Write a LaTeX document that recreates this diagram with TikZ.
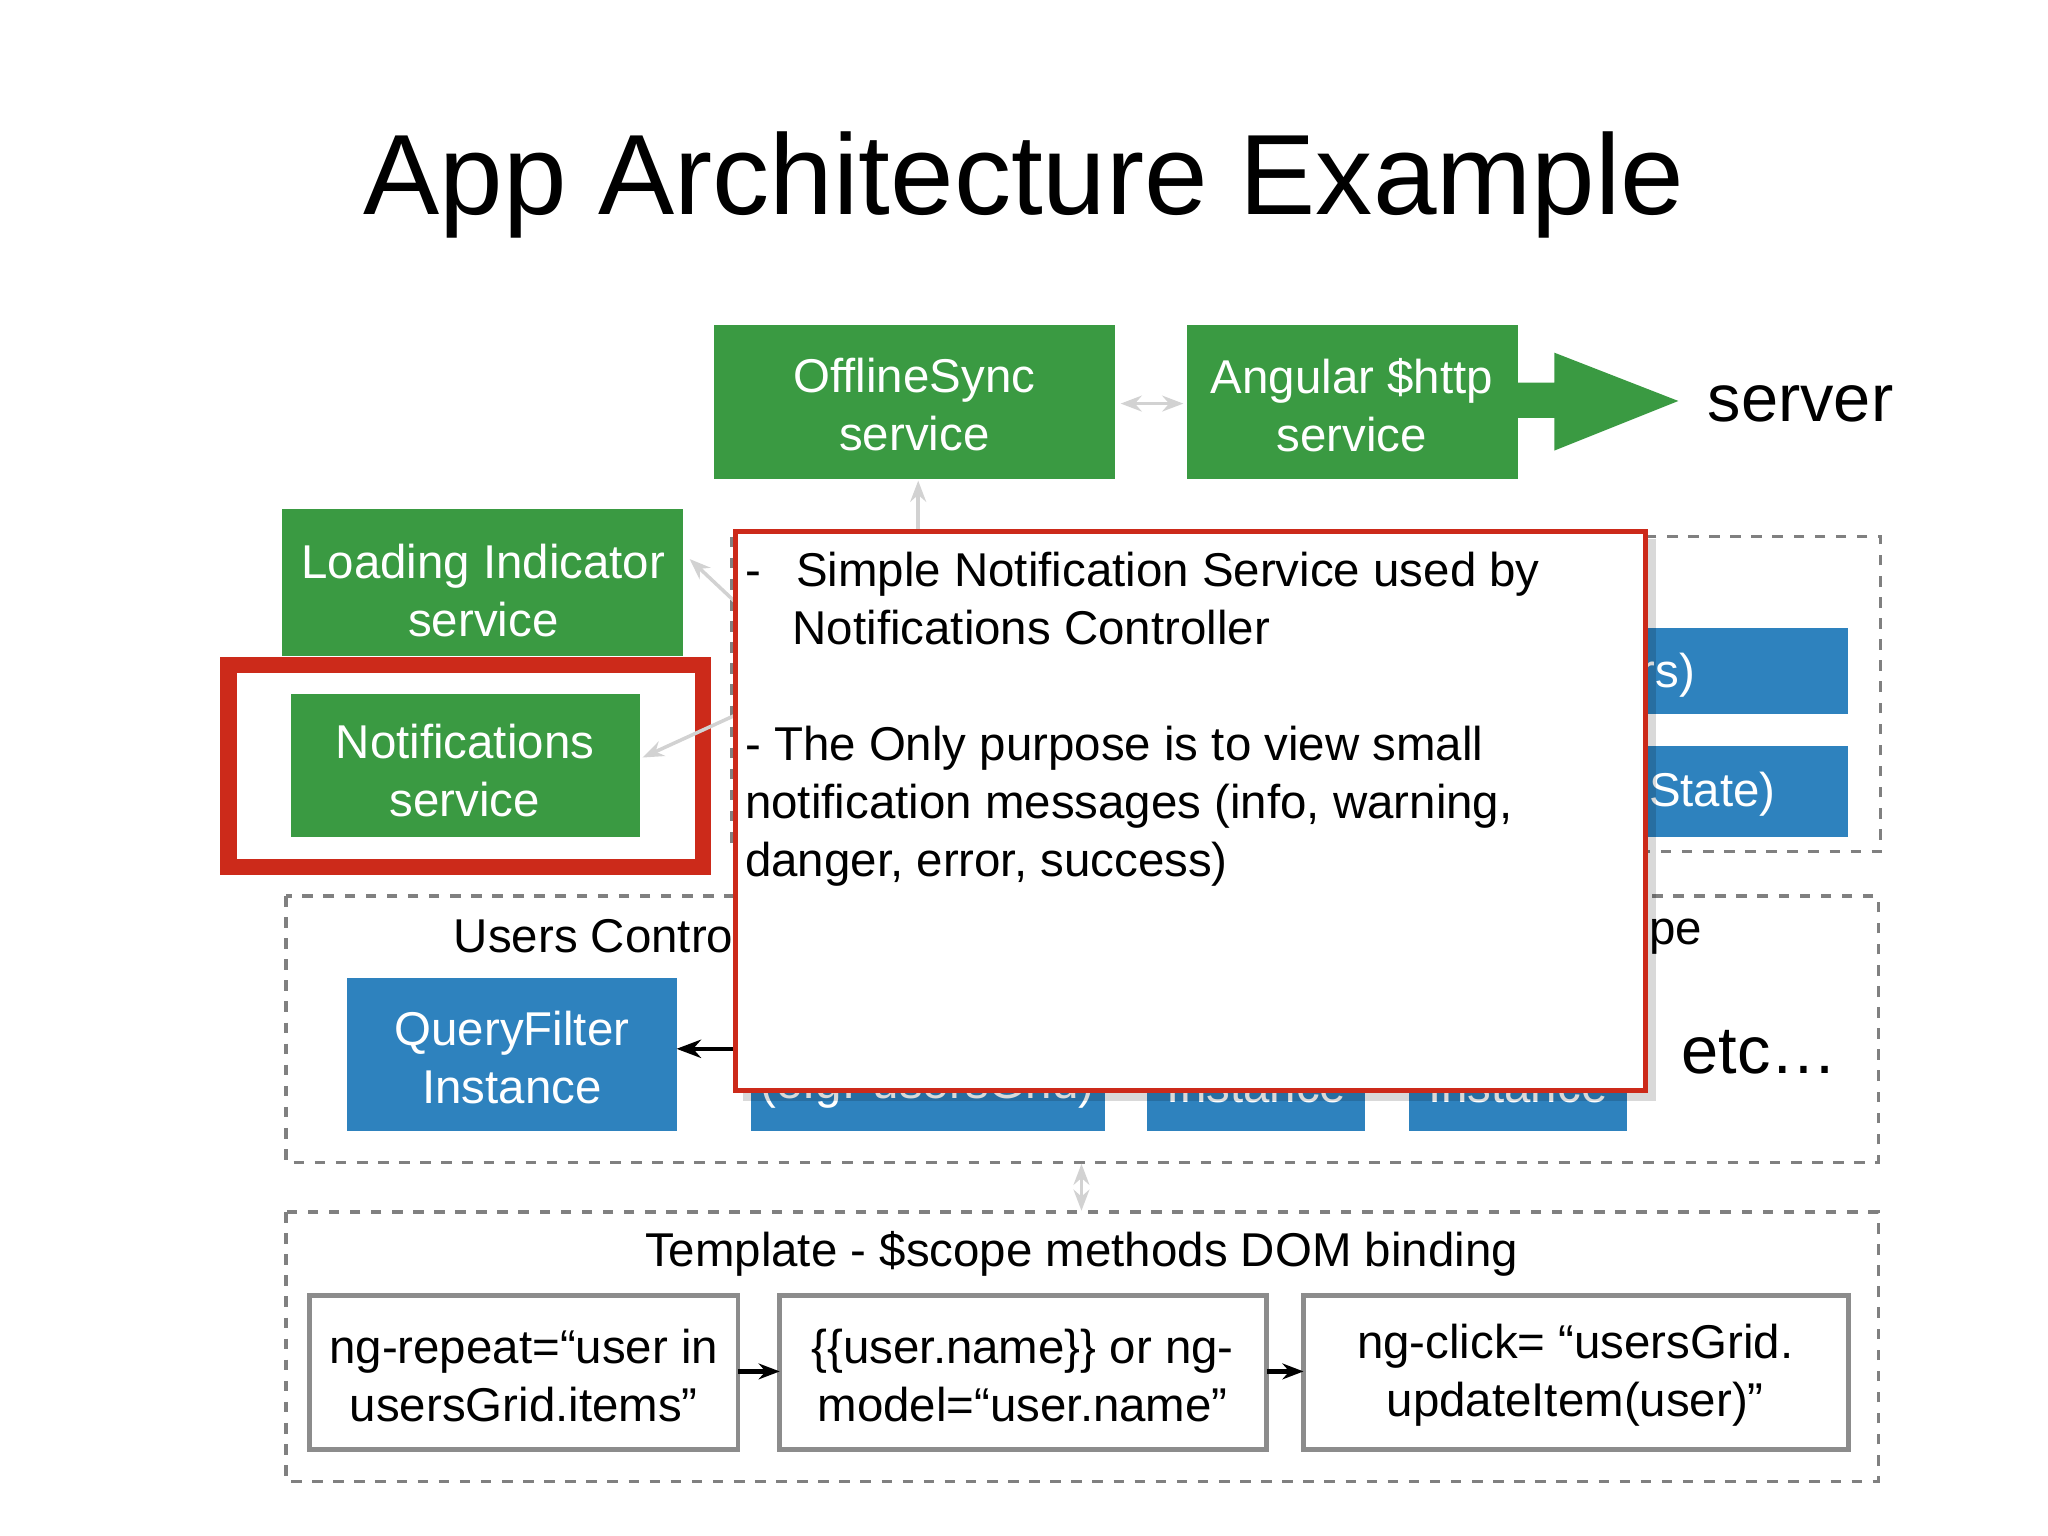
\documentclass[tikz,border=0pt]{standalone}
\usepackage{fontspec}
\setmainfont{Liberation Sans}
\usetikzlibrary{arrows.meta}
\definecolor{gr}{HTML}{3A9A42}
\definecolor{bl}{HTML}{2E82BE}
\definecolor{rd}{HTML}{CC2A1A}
\begin{document}
\begin{tikzpicture}[x=0.013061cm,y=-0.013061cm,
  box/.style={draw=none,inner sep=0pt,align=center,font=\fontsize{13.5}{16.5}\selectfont},
  g/.style={fill=gr,text=white},
  b/.style={fill=bl,text=white},
  dsh/.style={draw=gray,dashed,line width=0.9pt},
  tb/.style={draw=gray!90,line width=1.4pt,fill=white},
  lt/.style={draw=gray!35,line width=1pt,-{Stealth[length=6pt]}},
  t/.style={font=\fontsize{13.5}{16.5}\selectfont,inner sep=0pt}]
\useasboundingbox (0,0) rectangle (1568,1176);
\node[font=\fontsize{32.5}{38}\selectfont] (title) at (784,142) {App Architecture Example};
% dashed containers
\draw[dsh] (560,411) rectangle (1440,652);
\draw[dsh] (219,686) rectangle (1438,890);
\draw[dsh] (219,928) rectangle (1438,1134);
% green services
\path[g] (547,249) rectangle (854,367); \node[box,text=white] (off) at (700,310) {OfflineSync\\service};
\path[g] (909,249) rectangle (1162,367); \node[box,text=white] (http) at (1035,310) {Angular \$http\\service};
\path[g] (216,390) rectangle (523,502); \node[box,text=white] (load) at (370,452) {Loading Indicator\\service};
\path[g] (223,531) rectangle (490,641); \node[box,text=white] (notif) at (356,590) {Notifications\\service};
\fill[gr] (1162,293) -- (1190,293) -- (1190,270) -- (1285,307) -- (1190,345) -- (1190,320) -- (1162,320) -- cycle;
\node[font=\fontsize{19}{22}\selectfont,anchor=west] (srv) at (1298,309) {server};
\draw[rd,line width=4.6pt] (175,509) rectangle (538,664);
% blue boxes top right
\path[b] (1230,481) rectangle (1415,547); \node[t,text=white,anchor=west] (u) at (1255,517) {rs)};
\path[b] (1230,571) rectangle (1415,641); \node[t,text=white,anchor=west] (st) at (1262,608) {State)};
% middle
\node[t,anchor=west] (uc) at (347,717) {Users Contro};
\node[t,anchor=west] (pe) at (1262,717) {pe};
\path[b] (266,749) rectangle (518,866); \node[box,text=white] (qf) at (392,810) {QueryFilter\\Instance};
\path[b] (575,760) rectangle (846,866); \node[t,text=white] (ug) at (710,832) {(e.g. usersGrid)};
\path[b] (878,760) rectangle (1045,866); \node[t,text=white] (i1) at (962,832) {Instance};
\path[b] (1079,760) rectangle (1246,866); \node[t,text=white] (i2) at (1162,832) {Instance};
\node[font=\fontsize{19}{22}\selectfont,anchor=west] (etc) at (1278,806) {etc…};
\coordinate (qa) at (570,803);
\draw[-{Stealth[length=7pt]},line width=1pt] (qa) -- (518,803);
% template
\node[t] (tpl) at (828,960) {Template - \$scope methods DOM binding};
\draw[tb] (237,992) rectangle (565,1110); \node[box] (t1) at (401,1053) {ng-repeat=“user in\\usersGrid.items”};
\draw[tb] (597,992) rectangle (970,1110); \node[box] (t2) at (783,1053) {\{\{user.name\}\} or ng-\\model=“user.name”};
\draw[tb] (998,992) rectangle (1415,1110); \node[box] (t3) at (1206,1053) {ng-click= “usersGrid.\\updateItem(user)”};
\draw[-{Stealth[length=6pt]},line width=1.2pt] (565,1050) -- (597,1050);
\draw[-{Stealth[length=6pt]},line width=1.2pt] (970,1050) -- (998,1050);
% light connectors
\draw[lt,{Stealth[length=6pt]}-{Stealth[length=6pt]}] (858,309) -- (906,309);
\draw[lt,{Stealth[length=6pt]}-{Stealth[length=6pt]}] (828,891) -- (828,927);
\draw[lt] (703,408) -- (703,368);
\draw[lt] (562,460) -- (528,428);
\draw[lt] (562,548) -- (492,580);
% popup
\fill[black,opacity=0.15] (569,413) rectangle (1268,843);
\draw[rd,line width=1.5pt,fill=white] (563,407) rectangle (1260,835);
\node[t,anchor=north west,align=left] (pop) at (570,422) {-\hspace{10pt}Simple Notification Service used by\\\hspace{13.5pt}Notifications Controller\\[16.5pt]- The Only purpose is to view small\\notification messages (info, warning,\\danger, error, success)};
\end{tikzpicture}
\end{document}
